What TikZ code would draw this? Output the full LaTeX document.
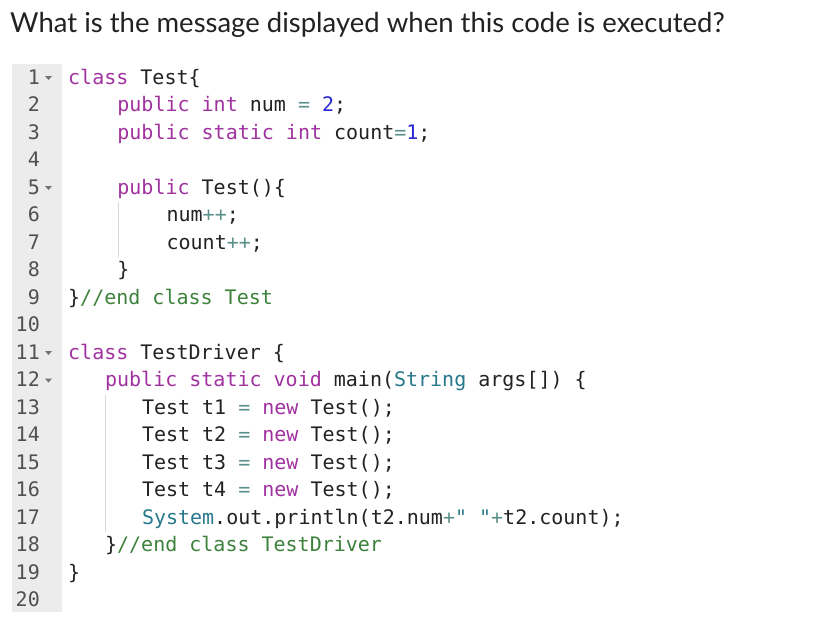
\documentclass[tikz,border=0pt]{standalone}
\usepackage{fontspec}
\setmainfont{Lato}
\newfontfamily\codefont{DejaVu Sans Mono}[Scale=1.0]
\definecolor{kwc}{RGB}{160,50,160}
\definecolor{nmc}{RGB}{40,40,210}
\definecolor{opc}{RGB}{90,145,140}
\definecolor{stc}{RGB}{40,120,140}
\definecolor{cmc}{RGB}{60,130,60}
\definecolor{txc}{RGB}{34,34,34}
\definecolor{gut}{RGB}{236,236,236}
\definecolor{lnc}{RGB}{80,80,80}
\newcommand\kw[1]{\textcolor{kwc}{#1}}
\newcommand\nm[1]{\textcolor{nmc}{#1}}
\newcommand\op[1]{\textcolor{opc}{#1}}
\newcommand\st[1]{\textcolor{stc}{#1}}
\newcommand\cm[1]{\textcolor{cmc}{#1}}
\begin{document}
\begin{tikzpicture}[x=1pt,y=-1pt,
  code/.style={anchor=base west,inner sep=0pt,font=\codefont\fontsize{20}{24}\selectfont,text=txc},
  lnum/.style={anchor=base east,inner sep=0pt,font=\codefont\fontsize{20}{24}\selectfont,text=lnc},
  fold/.style={fill=lnc!80,draw=none},
  guide/.style={draw=black!15,line width=0.6pt}]
\useasboundingbox (0,0) rectangle (830,632);
\fill[white] (0,0) rectangle (830,632);
\node[anchor=base west,inner sep=0pt,font=\fontsize{27.5}{32}\selectfont,text=txc] (title) at (10,32) {What is the message displayed when this code is executed?};
\fill[gut] (12,64) rectangle (62,612);
% line numbers
\foreach \n in {1,...,20}{
  \node[lnum] (ln\n) at (40,{84+27.5*(\n-1)}) {\n};
}
\foreach \n in {1,5,11,12}{
  \fill[fold] ({45},{76+27.5*(\n-1)}) -- ++(7,0) -- ++(-3.5,4) -- cycle;
}
% indent guides
\draw[guide] (118,{84+27.5*4+8}) -- (118,{84+27.5*6+8});
\draw[guide] (105,{84+27.5*11+8}) -- (105,{84+27.5*16+8});
\def\cx#1{68+12.3*#1}
\def\ly#1{84+27.5*(#1-1)}
\node[code] (c1) at ({\cx0},{\ly1}) {\kw{class} Test\{};
\node[code] (c2) at ({\cx4},{\ly2}) {\kw{public} \kw{int} num \op{=} \nm{2};};
\node[code] (c3) at ({\cx4},{\ly3}) {\kw{public} \kw{static} \kw{int} count\op{=}\nm{1};};
\node[code] (c5) at ({\cx4},{\ly5}) {\kw{public} Test()\{};
\node[code] (c6) at ({\cx8},{\ly6}) {num\op{++};};
\node[code] (c7) at ({\cx8},{\ly7}) {count\op{++};};
\node[code] (c8) at ({\cx4},{\ly8}) {\}};
\node[code] (c9) at ({\cx0},{\ly9}) {\}\cm{//end class Test}};
\node[code] (c11) at ({\cx0},{\ly{11}}) {\kw{class} TestDriver \{};
\node[code] (c12) at ({\cx3},{\ly{12}}) {\kw{public} \kw{static} \kw{void} main(\st{String} args[]) \{};
\node[code] (c13) at ({\cx6},{\ly{13}}) {Test t1 \op{=} \kw{new} Test();};
\node[code] (c14) at ({\cx6},{\ly{14}}) {Test t2 \op{=} \kw{new} Test();};
\node[code] (c15) at ({\cx6},{\ly{15}}) {Test t3 \op{=} \kw{new} Test();};
\node[code] (c16) at ({\cx6},{\ly{16}}) {Test t4 \op{=} \kw{new} Test();};
\node[code] (c17) at ({\cx6},{\ly{17}}) {\st{System}.out.println(t2.num\op{+}\st{" "}\op{+}t2.count);};
\node[code] (c18) at ({\cx3},{\ly{18}}) {\}\cm{//end class TestDriver}};
\node[code] (c19) at ({\cx0},{\ly{19}}) {\}};
\end{tikzpicture}
\end{document}
